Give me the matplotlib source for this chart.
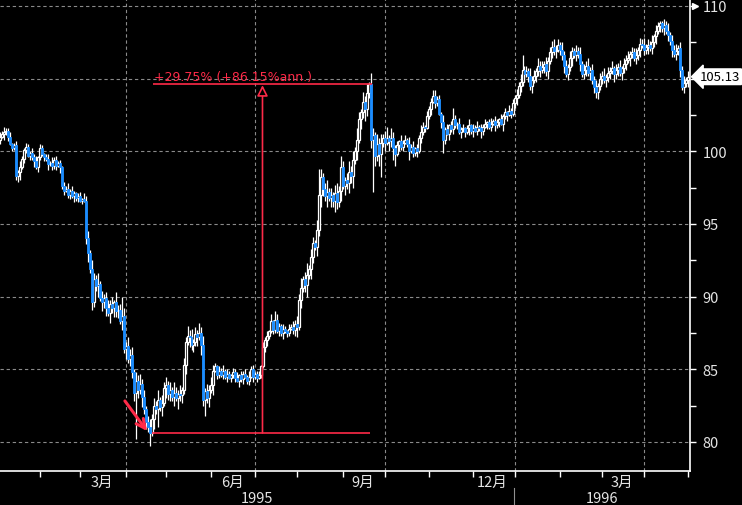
"""USD/JPY daily candles, Jan 1995 - May 1996, Bloomberg-style dark chart."""
import matplotlib
matplotlib.use("Agg")
import matplotlib.pyplot as plt
import matplotlib.transforms as mtrans
from matplotlib.ticker import MultipleLocator, FuncFormatter
import numpy as np
import pandas as pd

plt.rcParams['font.family'] = ['Liberation Sans Narrow', 'Noto Sans CJK JP', 'DejaVu Sans']

# daily closes, one line per month
close = [
    100.6, 100.8, 101.0, 101.2, 101.3, 101.4, 101.0, 100.5, 100.2, 100.4, 98.3, 98.6, 98.9, 99.5, 100.1, 100.3, 99.7, 99.9, 99.6, 99.3, 98.9, 99.6,
    100.2, 99.8, 99.6, 99.5, 99.1, 99.2, 99.0, 99.4, 99.0, 99.2, 98.9, 97.6, 97.3, 97.4, 97.0, 97.3, 96.9, 97.1, 96.8, 96.9,
    96.6, 96.7, 96.6, 94.0, 93.0, 91.9, 89.6, 91.2, 90.7, 90.9, 89.9, 89.6, 89.9, 89.2, 88.9, 89.5, 89.2, 89.6, 89.0, 89.1, 88.3, 88.7, 86.4,
    86.6, 85.7, 86.0, 84.8, 83.4, 84.2, 83.6, 84.0, 83.1, 82.3, 81.4, 81.0, 80.62, 81.6, 82.5, 82.3, 82.9, 82.4, 82.7, 83.7,
    83.9, 83.3, 83.6, 83.1, 83.4, 83.0, 83.3, 83.2, 83.6, 85.3, 86.9, 87.3, 87.2, 86.7, 86.9, 87.4, 87.2, 87.5, 86.7, 82.9, 83.5, 83.0, 83.6,
    83.9, 84.9, 85.2, 84.6, 84.9, 84.6, 84.9, 84.5, 84.7, 84.4, 84.6, 84.8, 84.4, 84.2, 84.6, 84.3, 84.7, 84.5, 84.2, 84.5, 85.0, 84.5,
    84.7, 84.4, 84.6, 85.2, 86.5, 87.0, 87.3, 87.6, 88.3, 87.7, 88.4, 87.6, 88.0, 87.5, 87.8, 87.6, 87.5, 87.8, 87.9, 87.7, 88.1,
    87.9, 89.8, 90.6, 91.2, 90.8, 91.5, 91.9, 92.7, 93.7, 93.4, 94.6, 97.0, 98.2, 97.4, 96.9, 97.2, 96.8, 97.0, 96.6, 97.1, 96.5, 97.3, 98.9,
    97.6, 98.0, 97.8, 98.6, 98.3, 99.4, 100.0, 100.8, 102.2, 102.7, 103.4, 102.9, 104.0, 104.6, 100.8, 101.1, 99.7, 100.5, 99.8, 100.6, 100.9,
    100.6, 100.9, 100.7, 100.9, 100.2, 99.8, 100.4, 100.7, 100.3, 100.6, 100.8, 100.5, 100.0, 100.3, 99.9, 100.2, 100.0, 100.9, 101.3, 101.7, 101.6, 102.4,
    102.9, 103.4, 103.8, 103.3, 103.6, 102.6, 102.0, 100.8, 101.5, 101.2, 101.8, 101.5, 102.2, 101.8, 101.9, 101.3, 101.5, 101.6, 101.3, 101.6, 101.8, 101.4,
    101.6, 101.4, 101.7, 101.6, 101.4, 101.7, 101.9, 102.0, 101.7, 101.9, 102.1, 101.8, 102.0, 102.2, 101.9, 102.4, 102.7, 102.5, 102.8, 102.6, 103.3,
    103.7, 103.9, 104.5, 104.8, 105.6, 105.3, 105.5, 105.2, 104.5, 104.9, 105.2, 105.5, 105.9, 105.6, 105.8, 106.0, 105.5, 106.2, 106.8, 107.2, 106.9, 107.0, 107.3,
    107.0, 106.6, 105.9, 105.3, 105.8, 106.4, 106.9, 106.6, 106.9, 106.7, 106.0, 105.3, 105.6, 105.9, 105.4, 105.6, 104.9, 104.4, 104.1, 104.5, 105.0,
    105.2, 104.9, 105.1, 105.4, 105.5, 105.7, 105.3, 105.6, 105.8, 105.4, 105.7, 106.0, 106.3, 106.4, 106.7, 106.8, 106.4, 106.6, 107.0, 107.4, 107.3,
    107.0, 107.2, 107.3, 107.1, 107.5, 107.9, 108.3, 108.6, 108.8, 108.5, 108.7, 108.3, 108.0, 107.6, 107.0, 106.7, 106.9, 107.1, 105.6, 104.4, 104.7, 104.9,
    105.13,
]
first_open = 100.4
# wick lengths above / below the body, in tenths of a yen
up_wick = ("21324 12312 31421 32132 41321 23142 31213 24132 12314"
           "35264 37253 46352 73425 36452 64735 24635 37254 63527 43625 37462 53746 25364"
           "21324 13213 24132 31423 12314 23121 34213 21324"
           "36472 58364 27563 48352 67384 25746 38527 46385 27463 58274"
           "23142 31524 13253 14231 42315 24132 31423 12413 24132 31241 32142 31423"
           "24352 34253 42534 25342 53425 34253 24352 43524 35243 52435 24352 43524 35243 52435 24352 43524 35243 524")
dn_wick = ("12314 23121 34213 21324 13213 24132 31423 12314 23121"
           "46352 37264 52736 45263 73546 26374 53627 45362 74536 27453 62745 36274 53627"
           "13213 24132 31423 12314 23121 34213 21324 13213"
           "47263 58374 26485 37264 85372 64758 36274 85362 74853 62748"
           "31423 12413 24132 31241 32142 31423 23142 31524 13253 14231 42315 24132"
           "35243 52435 24352 43524 35243 52435 24352 34253 42534 25342 53425 34253 24352 43524 35243 52435 24352 435")
# long wicks
low_fix = {12: 98.0, 49: 89.3, 70: 80.2, 77: 79.75, 81: 81.0, 105: 81.8, 189: 97.2,
           193: 98.2, 200: 99.0, 207: 99.4, 224: 99.9, 301: 103.7}
high_fix = {5: 101.6, 63: 90.0, 138: 88.8, 140: 89.0, 162: 98.8, 163: 98.8, 187: 104.8,
            219: 104.2, 229: 103.0, 264: 106.6, 279: 107.6, 333: 109.0}

month_lbl = {3: "3月", 6: "6月", 9: "9月", 12: "12月"}
low_lvl, high_lvl = 80.62, 104.60
move_txt = "+29.75% (+86.15%ann.)"
last_px = "105.13"

RED = '#ff2a48'
BLUE = '#1a8cff'
GRID = '#8a8a8a'
TXT = '#e4e4e4'

n = len(close)
dates = pd.bdate_range("1995-01-02", periods=n)
idx = np.arange(n)
c = np.array(close)
o = np.r_[first_open, c[:-1]]
uw = np.array([int(ch) for ch in up_wick.replace(" ", "")][:n]) / 10
dw = np.array([int(ch) for ch in dn_wick.replace(" ", "")][:n]) / 10
hi = np.maximum(o, c) + uw
lo = np.minimum(o, c) - dw
for k, v in low_fix.items():
    lo[k] = v
for k, v in high_fix.items():
    hi[k] = v

fig = plt.figure(figsize=(7.42, 5.06), dpi=100, facecolor='black')
ax = fig.add_axes([0, 34/506, 690/742, 472/506])
ax.set_facecolor('black')
ax.set_xlim(1.96, 348.0)
ax.set_ylim(78.0, 110.48)

# grid
for y in range(80, 111, 5):
    ax.axhline(y, color=GRID, lw=0.8, ls=(0, (3, 2.5)), zorder=0)
month_start = [i for i in range(1, n) if dates[i].month != dates[i-1].month]
for i in month_start:
    if dates[i].month in (1, 4, 7, 10):
        ax.axvline(i, color=GRID, lw=0.8, ls=(0, (3, 2.5)), zorder=0)

# candles
upc = c >= o
ax.vlines(idx, lo, hi, color='white', lw=0.9, zorder=2)
ax.bar(idx[upc], (c-o)[upc], bottom=o[upc], width=1.0, facecolor='black',
       edgecolor='white', lw=0.9, zorder=3)
ax.bar(idx[~upc], (o-c)[~upc], bottom=c[~upc], width=1.0, facecolor=BLUE,
       edgecolor=BLUE, lw=0.6, zorder=3)

# axes
for s in ('top', 'left'):
    ax.spines[s].set_visible(False)
for s in ('right', 'bottom'):
    ax.spines[s].set_color('white')
    ax.spines[s].set_linewidth(1.2)
ax.yaxis.tick_right()
ax.yaxis.set_major_locator(MultipleLocator(5))
ax.yaxis.set_minor_locator(MultipleLocator(2.5))
ax.yaxis.set_major_formatter(FuncFormatter(lambda v, p: '' if abs(v - 105) < 0.01 else f"{v:.0f}"))
ax.tick_params(axis='y', which='both', colors='white', labelcolor=TXT, direction='out',
               length=4, width=1, labelsize=10.5, pad=5)
ax.set_xticks(month_start)
ax.set_xticklabels([])
ax.tick_params(axis='x', colors='white', direction='out', length=4, width=1)

xt = ax.get_xaxis_transform()
for m, lab in month_lbl.items():
    for yr in (1995, 1996):
        d = [i for i in range(n) if dates[i].month == m and dates[i].year == yr]
        if d and d[-1] < n - 1:
            ax.text((d[0] + d[-1]) / 2, -11/472, lab, transform=xt, color=TXT,
                    fontsize=10.5, ha='center', va='center')
yr_end = [i for i in range(n) if dates[i].year == 1995][-1] + 0.5
ax.text((1.96 + yr_end) / 2, -27/472, "1995", transform=xt, color=TXT, fontsize=10.5,
        ha='center', va='center')
ax.text((yr_end + 348.0) / 2, -27/472, "1996", transform=xt, color=TXT, fontsize=10.5,
        ha='center', va='center')
ax.plot([yr_end, yr_end], [-17/472, -34/472], transform=xt, clip_on=False,
        color='#909090', lw=0.8)

# last price tag and top marker
yt = mtrans.blended_transform_factory(ax.transAxes, ax.transData)
ax.text(1.014, c[-1], last_px, transform=yt, color='black', fontsize=9.5,
        ha='left', va='center',
        bbox=dict(boxstyle='larrow,pad=0.1', fc='white', ec='white'))
ax.plot([1.007], [110], marker='>', ms=5, color='white', transform=yt, clip_on=False)

# move annotation
i_lo = 78.2
i_hi = 188.5
i_mid = 133.6
ax.hlines(low_lvl, i_lo, 187.5, color=RED, lw=1.2, zorder=5)
ax.hlines(high_lvl, i_lo + 0.5, i_hi, color=RED, lw=1.2, zorder=5)
ax.annotate('', xy=(i_mid, high_lvl - 0.05), xytext=(i_mid, low_lvl),
            arrowprops=dict(arrowstyle='-|>', ec=RED, fc='black', lw=1.2,
                            mutation_scale=16, shrinkA=0, shrinkB=0), zorder=5)
ax.text(i_lo + 1, high_lvl + 0.12, move_txt, color=RED, fontsize=9,
        family='DejaVu Sans', ha='left', va='bottom', zorder=5)
ax.annotate('', xy=(75.7, 80.75), xytext=(64.6, 82.82),
            arrowprops=dict(arrowstyle='->', color=RED, lw=2.2, mutation_scale=16,
                            shrinkA=0, shrinkB=0), zorder=5)

fig.savefig("out.png", dpi=100, facecolor='black')
